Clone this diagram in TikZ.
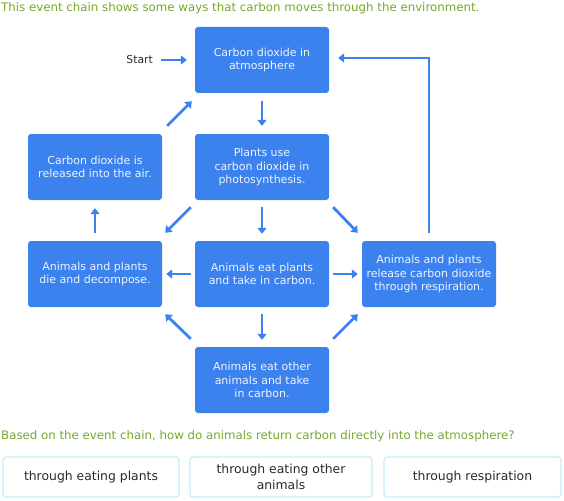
\documentclass[tikz,border=0pt]{standalone}
\usepackage{fontspec}
\setmainfont{DejaVu Sans}
\usetikzlibrary{arrows.meta,calc}
\definecolor{boxblue}{HTML}{3B82EE}
\definecolor{qgreen}{HTML}{78A82A}
\definecolor{ansborder}{HTML}{C4ECFA}
\definecolor{boxtext}{HTML}{EEF4FF}
\definecolor{darktext}{HTML}{2A2A2A}
\tikzset{
  evbox/.style={fill=boxblue, rounded corners=3pt, minimum width=134pt, minimum height=66pt,
    text=boxtext, align=center, inner sep=0pt, font=\fontsize{11}{13.5}\selectfont},
  arr/.style={draw=boxblue, line width=2.8pt, -{Triangle[length=6pt,width=9pt]}},
  ansbox/.style={draw=ansborder, line width=1.3pt, rounded corners=3pt, minimum height=40pt,
    align=center, text=darktext, inner sep=0pt, font=\fontsize{12.4}{16.5}\selectfont},
  qtext/.style={text=qgreen, anchor=west, inner sep=0pt, font=\fontsize{11.8}{14}\selectfont}
}
\begin{document}
\begin{tikzpicture}[x=1pt,y=-1pt]
\useasboundingbox (0,0) rectangle (564,500);
\node[qtext] (title) at (1,8) {This event chain shows some ways that carbon moves through the environment.};
\node[evbox] (top) at (262,60) {Carbon dioxide in\\atmosphere};
\node[evbox] (plants) at (262,167) {Plants use\\carbon dioxide in\\photosynthesis.};
\node[evbox] (released) at (95,167) {Carbon dioxide is\\released into the air.};
\node[evbox] (die) at (95,274) {Animals and plants\\die and decompose.};
\node[evbox] (eat) at (262,274) {Animals eat plants\\and take in carbon.};
\node[evbox] (release) at (429,274) {Animals and plants\\release carbon dioxide\\through respiration.};
\node[evbox] (animals) at (262,380) {Animals eat other\\animals and take\\in carbon.};
\node[anchor=east, inner sep=0pt, text=darktext, font=\fontsize{10.8}{13}\selectfont] (start) at (153,60) {Start};

\draw[arr, shorten <=8pt, shorten >=8pt] (start.east) -- (top.west);
\draw[arr, shorten <=8pt, shorten >=8pt] (top.south) -- (plants.north);
\draw[arr, shorten <=7pt, shorten >=7pt] (plants.south) -- (eat.north);
\draw[arr, shorten <=7pt, shorten >=7pt] (eat.south) -- (animals.north);
\draw[arr, shorten <=8pt, shorten >=8pt] (die.north) -- (released.south);
\draw[arr, shorten <=4pt, shorten >=4pt] (eat.west) -- (die.east);
\draw[arr, shorten <=4pt, shorten >=4pt] (eat.east) -- (release.west);
\draw[arr] ($(released.north east)+(5,-8)$) -- ($(top.south west)+(-3,8)$);
\draw[arr] ($(plants.south west)+(-4,7)$) -- ($(die.north east)+(3,-8)$);
\draw[arr] ($(plants.south east)+(4,7)$) -- ($(release.north west)+(-4,-8)$);
\draw[arr] ($(animals.north west)+(-4,-8)$) -- ($(die.south east)+(3,7)$);
\draw[arr] ($(animals.north east)+(4,-8)$) -- ($(release.south west)+(-4,7)$);
\draw[arr] ($(release.north)+(0,-8)$) |- ($(top.east)+(9,-2)$);

\node[qtext] (question) at (1,436) {Based on the event chain, how do animals return carbon directly into the atmosphere?};
\node[ansbox, minimum width=176pt] (a1) at (91,477) {through eating plants};
\node[ansbox, minimum width=182pt] (a2) at (281,477) {through eating other\\animals};
\node[ansbox, minimum width=177pt] (a3) at (472.5,477) {through respiration};
\end{tikzpicture}
\end{document}
